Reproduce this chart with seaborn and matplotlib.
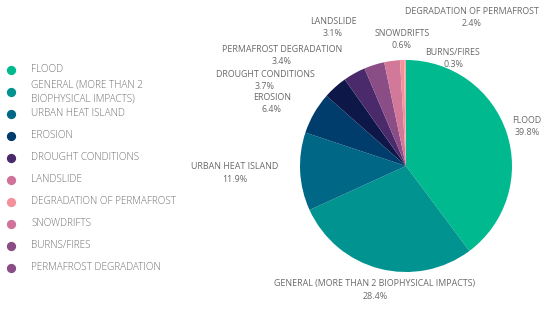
import matplotlib
matplotlib.use("Agg")
import matplotlib.pyplot as plt
import seaborn as sns

# Data (clockwise from 12 o'clock)
categories = ["Flood", "General (more than 2 biophysical impacts)", "Urban heat island",
              "Erosion", "Drought conditions", "Permafrost degradation", "Landslide",
              "Degradation of permafrost", "Snowdrifts", "Burns/fires"]
shares = [39.8, 28.4, 11.9, 6.4, 3.7, 3.4, 3.1, 2.4, 0.6, 0.3]
slice_colors = ["#00b98e", "#00938f", "#006886", "#003d6d", "#0e1848",
                "#4a2a6b", "#8a4d85", "#d27898", "#f4909a", "#f6a8a8"]

legend_labels = ["FLOOD", "GENERAL (MORE THAN 2\nBIOPHYSICAL IMPACTS)", "URBAN HEAT ISLAND",
                 "EROSION", "DROUGHT CONDITIONS", "LANDSLIDE", "DEGRADATION OF PERMAFROST",
                 "SNOWDRIFTS", "BURNS/FIRES", "PERMAFROST DEGRADATION"]
legend_colors = ["#00ba8e", "#00938f", "#006886", "#003d6d", "#4a2a6b",
                 "#d0739a", "#f3919c", "#d0739a", "#8a4d85", "#8a4d85"]

# label anchor positions in pixels (x, y from top)
label_pos = [(527, 126.5), (375, 290), (235, 173), (272, 103.5), (265, 80.5),
             (282, 55.5), (333, 27.5), (472, 17.5), (402, 39.5), (453, 58.5)]

sns.set_theme(style="white")
plt.rcParams["font.family"] = ["Open Sans", "DejaVu Sans"]

W, H = 550, 312
cx, cy, R = 406, 166, 106
fig = plt.figure(figsize=(W / 100, H / 100), dpi=100)
ax = fig.add_axes([0, 0, 1, 1])
ax.pie(shares, colors=slice_colors, startangle=90, counterclock=False,
       radius=1, center=(0, 0), wedgeprops=dict(linewidth=0))
ax.set_xlim(-cx / R, (W - cx) / R)
ax.set_ylim((cy - H) / R, cy / R)
ax.set_aspect("auto")
ax.axis("off")

text_color = "#6a6a6a"
for name, v, (px, py) in zip(categories, shares, label_pos):
    fig.text(px / W, 1 - py / H, f"{name.upper()}\n{v:.1f}%", ha="center", va="center",
             fontsize=6.4, color=text_color, linespacing=1.45)

# legend
for i, (lab, col) in enumerate(zip(legend_labels, legend_colors)):
    y = 70 + i * 22
    ax.scatter([(11 - cx) / R], [(cy - y) / R], s=32, color=col, clip_on=False, zorder=3)
    fig.text(31 / W, 1 - y / H, lab, ha="left", va="center", fontsize=7.2,
             color="#727272", linespacing=1.4, fontweight="light")

fig.savefig("out.png", dpi=100)
